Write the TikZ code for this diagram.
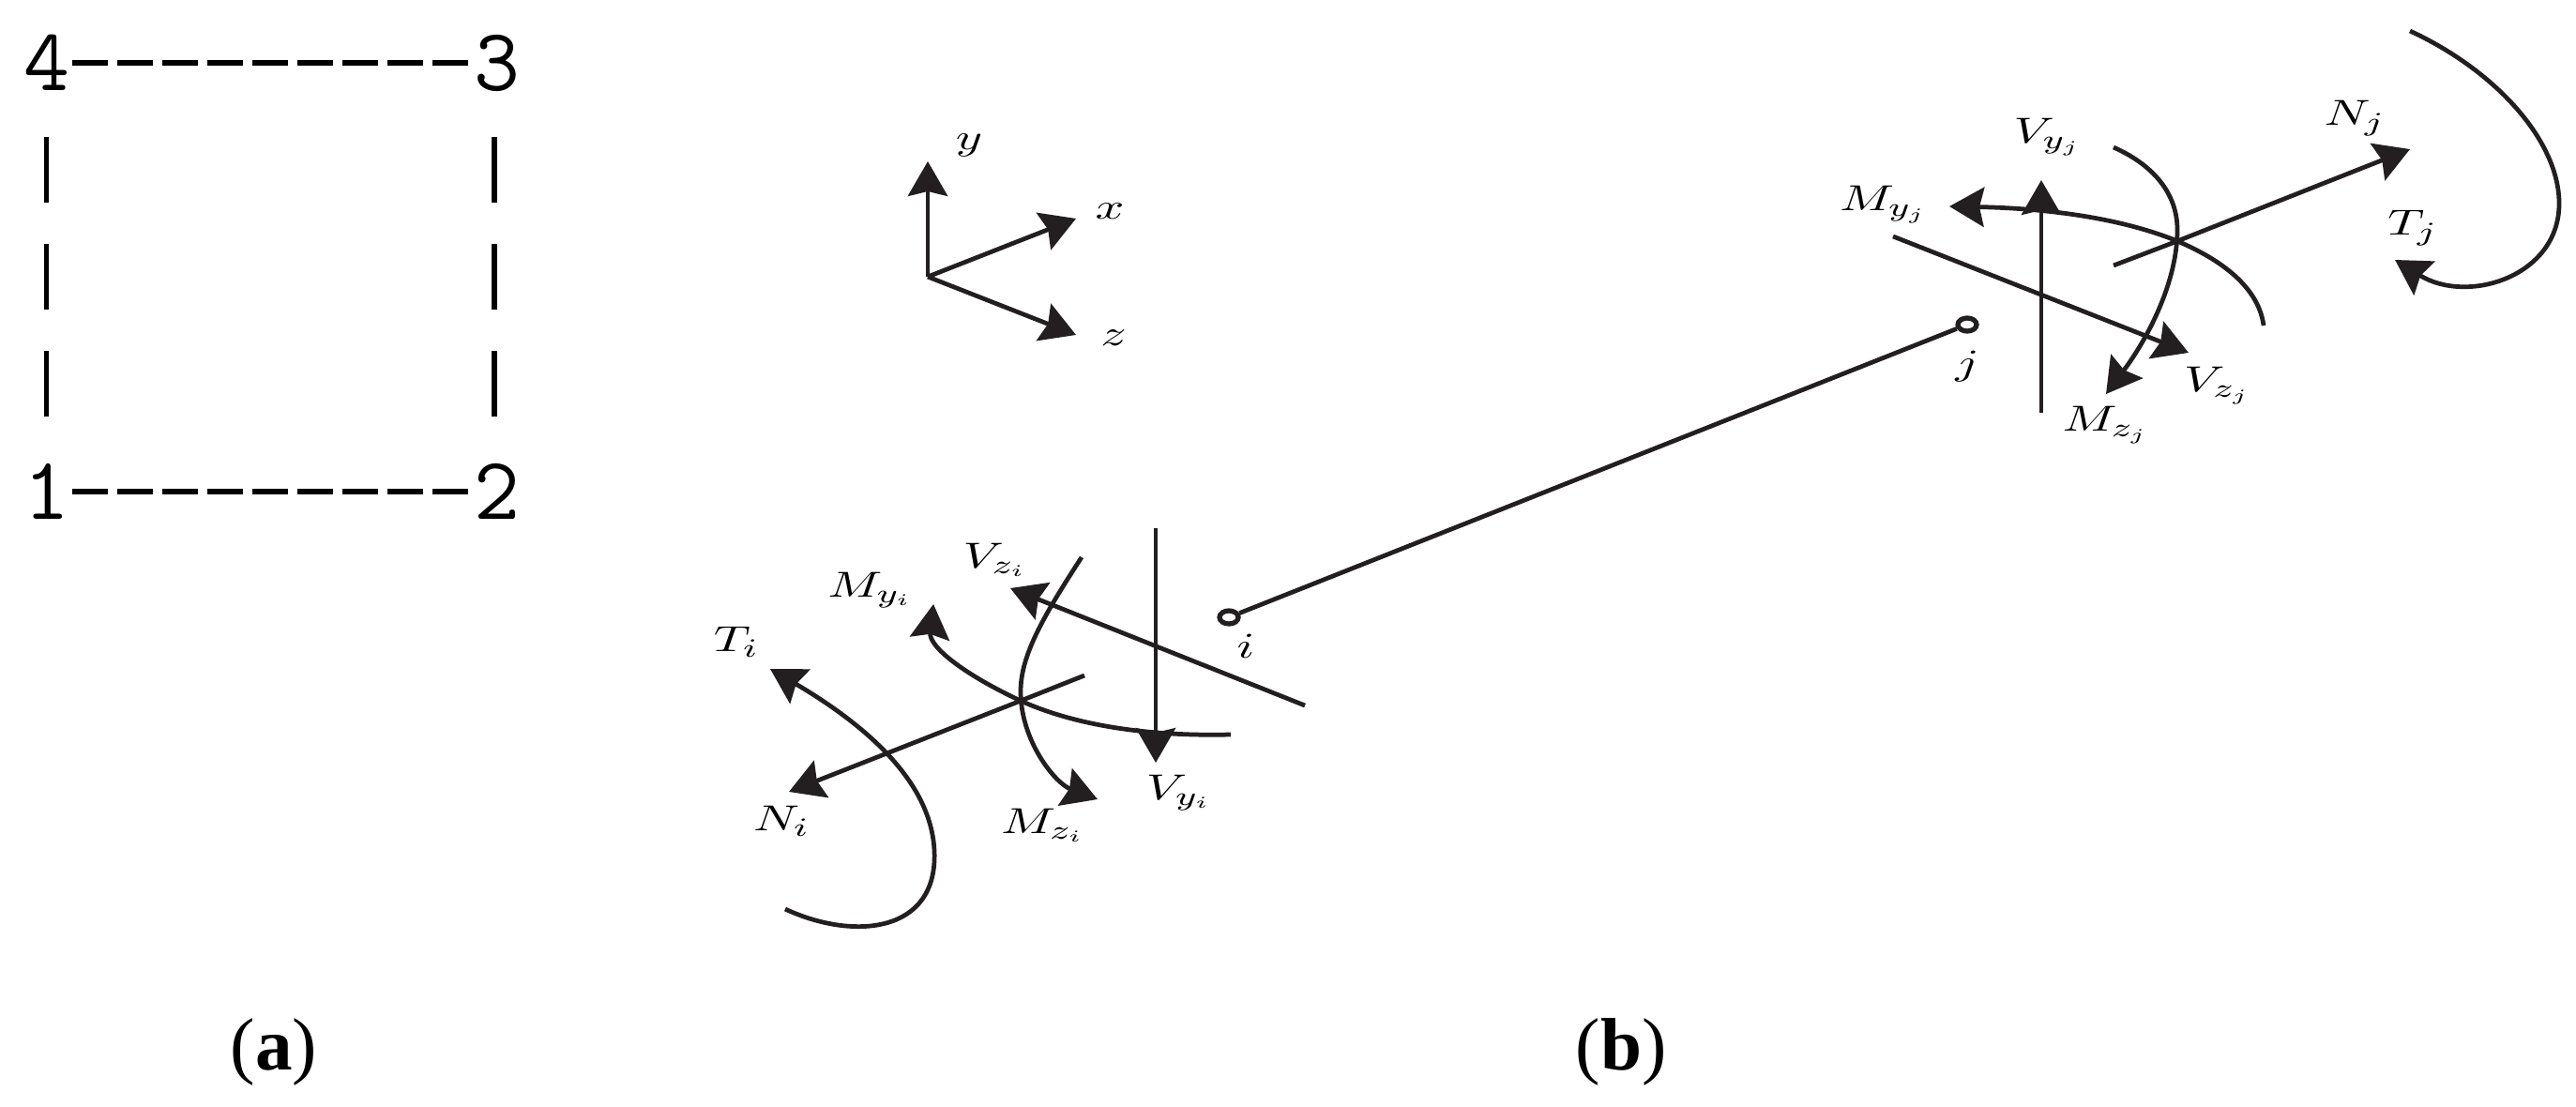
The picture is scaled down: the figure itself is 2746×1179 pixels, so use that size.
\documentclass[tikz,border=0pt]{standalone}
\usepackage{fontspec}
\usepackage{graphicx}
\setmainfont{Liberation Serif}
\setmonofont{Latin Modern Mono}
\usetikzlibrary{arrows.meta,calc,shapes.geometric}
\definecolor{ink}{HTML}{231F20}
\newcommand{\wlab}[1]{\scalebox{1.4}[1]{$#1$}}
\tikzset{
  x=0.01cm,y=-0.01cm,
  line/.style={draw=ink,line width=1.35pt},
  force/.style={line,-{Stealth[length=10.5pt,width=12pt,inset=1.4pt]}},
  lab/.style={inner sep=0pt,yshift=-0.03cm,text=black,font=\fontsize{10.8}{12}\selectfont},
  digit/.style={inner sep=0pt,text=black,font=\ttfamily\fontsize{27}{30}\selectfont},
  captext/.style={inner sep=0pt,text=black,font=\fontsize{22.5}{28}\selectfont},
  hdash/.style={draw=black,line width=1.6pt,dash pattern=on 0.38cm off 0.10cm},
  vdash/.style={draw=black,line width=1.5pt,dash pattern=on 0.70cm off 0.44cm},
  joint/.style={ellipse,draw=ink,line width=1.5pt,fill=white,minimum width=0.2cm,minimum height=0.14cm,inner sep=0pt},
}
\begin{document}
\begin{tikzpicture}
\useasboundingbox (0,0) rectangle (2746,1179);
% panel (a)
\node[digit] (n4) at (50,67) {4};
\node[digit] (n3) at (530,67) {3};
\node[digit] (n1) at (50,524) {1};
\node[digit] (n2) at (530,524) {2};
\draw[hdash] (n4.east) ++(2,0) coordinate (t4) -- (t4 -| n3.west);
\draw[hdash] (n1.east) ++(2,0) coordinate (b1) -- (b1 -| n2.west);
\coordinate (l4) at (49.5,146); \coordinate (l1) at (49.5,445);
\coordinate (r3) at (527,146); \coordinate (r2) at (527,445);
\draw[vdash] (l4) -- (l1);
\draw[vdash] (r3) -- (r2);
\node[captext] (capa) at (292,1121) {(\textbf{a})};
\node[captext] (capb) at (1728,1121) {(\textbf{b})};
% axes
\coordinate (O) at (989,295);
\coordinate (ay) at (989,172);
\coordinate (ax) at (1147,233);
\coordinate (az) at (1147,357);
\draw[force] (O) -- (ay);
\draw[force] (O) -- (ax);
\draw[force] (O) -- (az);
\node[lab] (ly) at (1033,152) {\wlab{y}};
\node[lab] (lx) at (1183,222) {\wlab{x}};
\node[lab] (lz) at (1187,357) {\wlab{z}};
% member
\node[joint] (i) at (1310,658) {};
\node[joint] (j) at (2097,346) {};
\draw[line] (i) -- (j);
\node[lab] (li) at (1328,686) {\wlab{i}};
\node[lab] (lj) at (2097,388) {\wlab{j}};
% end i
\coordinate (Ci) at (1088,747);
\draw[force] (1156,720) -- (Ci) -- (841,844);
\draw[force] (837,969) .. controls (910,1003) and (1000,995) .. (996,907)
   .. controls (993,840) and (935,780) .. (821,713);
\draw[force] (1312,783) .. controls (1230,785) and (1150,775) .. (Ci)
   .. controls (1030,720) and (990,690) .. (995,644);
\draw[force] (1153,594) .. controls (1110,660) and (1088,700) .. (1088,737)
   .. controls (1088,790) and (1125,835) .. (1170,852);
\draw[force] (1391,752) -- (1077,627);
\draw[force] (1232,563) -- (1232,813);
\node[lab] (Vzi) at (1061,594) {\wlab{V_{z_i}}};
\node[lab] (Myi) at (928,626) {\wlab{M_{y_i}}};
\node[lab] (Ti) at (785,681) {\wlab{T_i}};
\node[lab] (Ni) at (833,872) {\wlab{N_i}};
\node[lab] (Mzi) at (1112,877) {\wlab{M_{z_i}}};
\node[lab] (Vyi) at (1257,842) {\wlab{V_{y_i}}};
% end j
\coordinate (Cj) at (2321,257);
\draw[force] (2253,283) -- (Cj) -- (2569,159);
\draw[force] (2569,33) .. controls (2660,75) and (2728,150) .. (2728,217)
   .. controls (2728,295) and (2630,325) .. (2553,277);
\draw[force] (2413,347) .. controls (2408,310) and (2375,280) .. (Cj)
   .. controls (2260,232) and (2180,222) .. (2078,220);
\draw[force] (2253,157) .. controls (2300,178) and (2321,210) .. (2321,245)
   .. controls (2321,300) and (2290,360) .. (2245,420);
\draw[force] (2018,252) -- (2333,376);
\draw[force] (2176,440) -- (2176,192);
\node[lab] (Vyj) at (2183,143) {\wlab{V_{y_j}}};
\node[lab] (Nj) at (2510,123) {\wlab{N_j}};
\node[lab] (Myj) at (2008,215) {\wlab{M_{y_j}}};
\node[lab] (Tj) at (2572,240) {\wlab{T_j}};
\node[lab] (Vzj) at (2364,408) {\wlab{V_{z_j}}};
\node[lab] (Mzj) at (2245,450) {\wlab{M_{z_j}}};
\end{tikzpicture}
\end{document}
